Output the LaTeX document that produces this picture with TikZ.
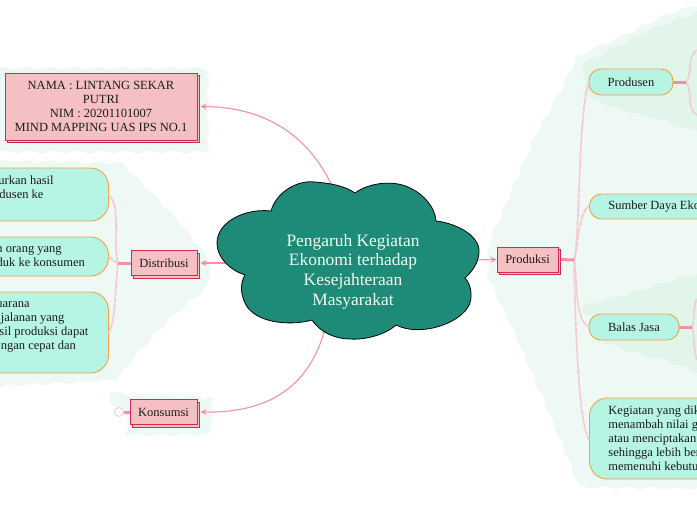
\documentclass[tikz,border=0pt]{standalone}
\usepackage{fontspec}
\setmainfont{Liberation Serif}
\usetikzlibrary{decorations.pathmorphing,arrows.meta,shadows}
\definecolor{blobpale}{HTML}{EEF8F4}
\definecolor{blobdark}{HTML}{E1F5EB}
\definecolor{linkpink}{HTML}{F78FA5}
\definecolor{branchpink}{HTML}{F7C6CF}
\definecolor{boxfill}{HTML}{F5C0C4}
\definecolor{boxedge}{HTML}{D3294F}
\definecolor{tealfill}{HTML}{B6F4E3}
\definecolor{orangeedge}{HTML}{F2A445}
\definecolor{cloudfill}{HTML}{1E8A78}
\definecolor{inktext}{HTML}{1C1C1C}
\tikzset{
  x=1pt,y=-1pt,
  wavy/.style={decorate,decoration={snake,amplitude=1.3pt,segment length=24pt}},
  paleblob/.style={fill=blobpale,wavy},
  darkblob/.style={fill=blobdark,wavy},
  topicbox/.style={draw=boxedge,line width=1pt,fill=boxfill,text=inktext,font=\fontsize{12.5}{14}\selectfont,align=flush center,inner sep=0pt,
    copy shadow={shadow xshift=2.5pt,shadow yshift=-2.5pt,draw=boxedge,fill=boxfill,opacity=1}},
  pill/.style={draw=orangeedge,line width=0.9pt,fill=tealfill,text=inktext,font=\fontsize{12.5}{14}\selectfont,rounded corners=12pt,inner sep=0pt},
  blockpill/.style={pill,rounded corners=18pt,align=flush left,anchor=west},
  mainlink/.style={draw=linkpink,line width=1.1pt,-{Stealth[length=6pt,width=6pt]}},
  stub/.style={draw=linkpink,line width=3pt},
  stubbranch/.style={draw=branchpink,line width=1.6pt,dash pattern=on 6pt off 0.8pt},
}
\begin{document}
\begin{tikzpicture}
\useasboundingbox (0,0) rectangle (697,520);
% backgrounds
\path[paleblob] (-5,68) -- (206,68) -- (206,148) -- (-5,148) -- cycle;
\path[paleblob] (-5,161) -- (115,163) -- (140,188) -- (178,228) -- (205,262) -- (203,285) -- (170,313) -- (130,355) -- (113,377) -- (-5,383) -- cycle;
\path[paleblob] (110,393) -- (205,398) -- (204,431) -- (109,432) -- cycle;
\path[paleblob] (705,4) -- (680,10) -- (580,57) -- (560,97) -- (543,127) -- (527,163) -- (510,203) -- (493,240) -- (492,280) -- (500,297) -- (520,340) -- (543,393) -- (563,440) -- (580,484) -- (705,486) -- cycle;
\path[darkblob] (584,63) -- (610,50) -- (650,30) -- (705,10) -- (705,137) -- (687,137) -- (653,125) -- (620,117) -- (587,103) -- cycle;
\path[darkblob] (582,307) -- (613,298) -- (647,288) -- (705,272) -- (705,380) -- (687,378) -- (657,367) -- (620,357) -- (583,345) -- cycle;
% nodes
\node[topicbox,minimum width=192pt,minimum height=67pt] (nama) at (101,106.5) {NAMA : LINTANG SEKAR\\PUTRI\\NIM : 20201101007\\MIND MAPPING UAS IPS NO.1};
\node[topicbox,minimum width=66pt,minimum height=25pt] (distribusi) at (164,263) {Distribusi};
\node[topicbox,minimum width=67pt,minimum height=25pt] (konsumsi) at (163.5,412) {Konsumsi};
\node[topicbox,minimum width=61pt,minimum height=25pt] (produksi) at (527.5,259.5) {Produksi};
\node[blockpill,text width=168pt,minimum height=53pt] (blokA) at (-60,194.5) {\hspace*{58pt}urkan hasil\\\hspace*{59pt}dusen ke\\\mbox{}};
\node[blockpill,text width=168pt,minimum height=39pt] (blokB) at (-60,256.5) {\hspace*{56pt}n orang yang\\\hspace*{56.2pt}duk ke konsumen};
\node[blockpill,text width=168pt,minimum height=81pt] (blokC) at (-60,332.5) {\hspace*{56pt}uarana\\\hspace*{60.5pt}jalanan yang\\\hspace*{59pt}sil produksi dapat\\\hspace*{60.5pt}ngan cepat dan\\\mbox{}};
\node[pill,minimum width=84pt,minimum height=26pt] (produsen) at (631,82) {Produsen};
\node[pill,minimum width=90pt,minimum height=26pt] (balas) at (634,327) {Balas Jasa};
\node[pill,anchor=west,align=flush left,text width=150pt,minimum height=25pt] (sumber) at (589,206.5) {\hspace*{19pt}Sumber Daya Eko};
\node[blockpill,text width=150pt,minimum height=81pt] (kegiatan) at (589,438.5) {\hspace*{19pt}Kegiatan yang dik\\\hspace*{19pt}menambah nilai g\\\hspace*{19pt}atau menciptakan\\\hspace*{19pt}sehingga lebih ber\\\hspace*{19pt}memenuhi kebutu};
\node[draw=branchpink,fill=white,circle,line width=0.8pt,minimum size=9pt,inner sep=0pt,text=branchpink,font=\fontsize{4}{4}\selectfont] (lipat) at (119,412) {2};
% junctions and free ends
\coordinate (jProduksi) at (574,260);
\coordinate (jDistribusi) at (118,263);
\coordinate (jProdusen) at (686,82);
\coordinate (jBalas) at (692,327);
\coordinate (endA) at (697,50);
\coordinate (endB) at (697,115);
\coordinate (endC) at (697,299);
\coordinate (endD) at (697,360);
\coordinate (cloudTop) at (340,205);
\coordinate (cloudBottom) at (326,325);
\coordinate (cloudLeft) at (225,263);
\coordinate (cloudRight) at (470,260);
% branches
\draw[stubbranch] (jProduksi) .. controls (580,240) and (578,110) .. (589,82);
\draw[stubbranch] (jProduksi) .. controls (578,250) and (578,212) .. (589,206);
\draw[stubbranch] (jProduksi) .. controls (578,280) and (574,320) .. (589,327);
\draw[stubbranch] (jProduksi) .. controls (575,300) and (577,420) .. (589,440);
\draw[stubbranch] (jDistribusi) .. controls (112,240) and (122,205) .. (108,194);
\draw[stubbranch] (jDistribusi) .. controls (115,263) and (112,258) .. (108,256);
\draw[stubbranch] (jDistribusi) .. controls (115,285) and (116,325) .. (108,333);
\draw[stubbranch] (jProdusen) .. controls (693,75) and (686,58) .. (endA);
\draw[stubbranch] (jProdusen) .. controls (693,90) and (686,110) .. (endB);
\draw[stubbranch] (jBalas) .. controls (695,320) and (693,305) .. (endC);
\draw[stubbranch] (jBalas) .. controls (695,335) and (693,350) .. (endD);
% stubs
\draw[stub] ([xshift=2.5pt]produksi.east) -- (jProduksi);
\draw[stub] (distribusi.west) -- (jDistribusi);
\draw[stub] (konsumsi.west) -- (lipat.east);
\draw[stub] (produsen.east) -- (jProdusen);
\draw[stub] (balas.east) -- (jBalas);
% main links
\draw[mainlink] (cloudTop) .. controls (315,135) and (265,107) .. ([xshift=3pt]nama.east);
\draw[mainlink] (cloudBottom) .. controls (310,390) and (265,413) .. ([xshift=3pt]konsumsi.east);
\draw[mainlink] (cloudLeft) -- ([xshift=3pt]distribusi.east);
\draw[mainlink] (cloudRight) -- (produksi.west);
% cloud
\draw[fill=cloudfill,draw=black,line width=0.8pt]
  (271,211) .. controls (277,190) and (300,180) .. (314,182)
  .. controls (330,183) and (345,186) .. (355,193)
  .. controls (370,182) and (395,180) .. (410,188)
  .. controls (425,195) and (435,208) .. (436,221)
  .. controls (455,223) and (480,235) .. (479,252)
  .. controls (479,262) and (472,272) .. (465,278)
  .. controls (472,285) and (473,300) .. (468,307)
  .. controls (458,324) and (420,337) .. (396,325)
  .. controls (385,335) and (365,340) .. (350,339)
  .. controls (335,339) and (320,332) .. (312,320)
  .. controls (295,325) and (262,325) .. (248,308)
  .. controls (241,298) and (239,285) .. (245,275)
  .. controls (230,270) and (217,258) .. (217,243)
  .. controls (217,222) and (245,208) .. (271,211) -- cycle;
\node[text=white!94!green,font=\fontsize{17.4}{19.7}\selectfont,align=flush center,inner sep=0pt] (pusat) at (353,271.5) {Pengaruh Kegiatan\\Ekonomi terhadap\\Kesejahteraan\\ Masyarakat};
\end{tikzpicture}
\end{document}
